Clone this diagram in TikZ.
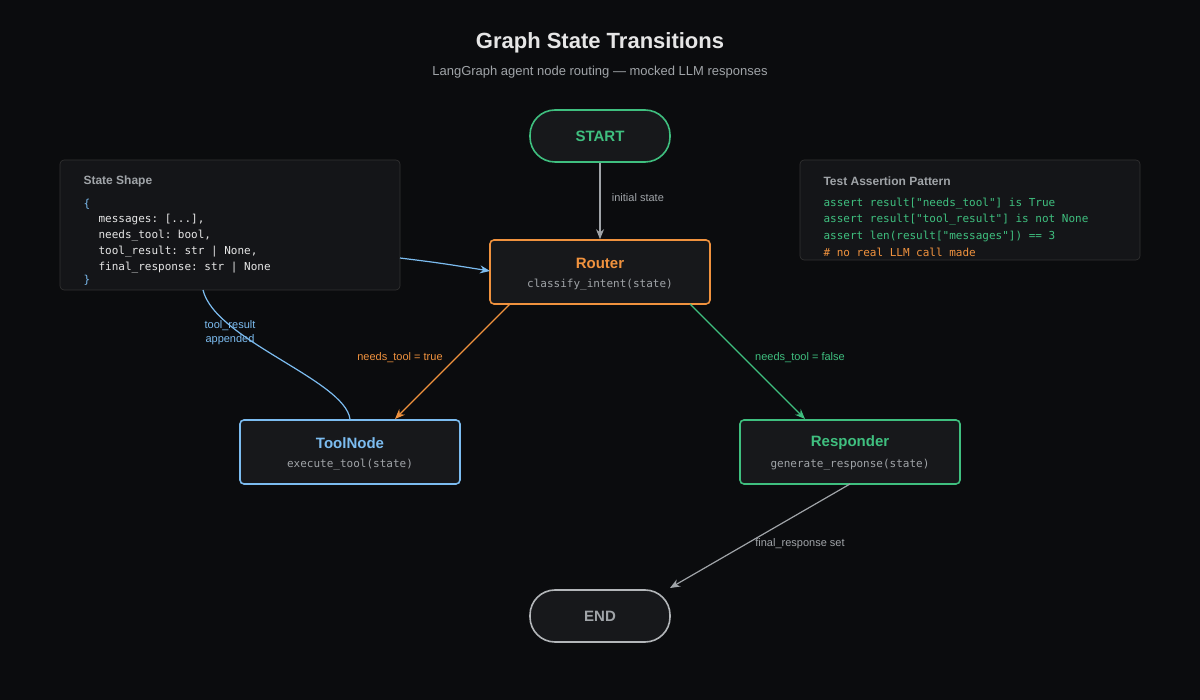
\documentclass[tikz,border=0pt]{standalone}
\usepackage{fontspec}
\setmainfont{Liberation Sans}
\setmonofont{DejaVu Sans Mono}
\usetikzlibrary{arrows.meta}
\definecolor{bg}{HTML}{0B0C0E}
\definecolor{boxf}{HTML}{17181B}
\definecolor{panel}{HTML}{141518}
\definecolor{gr}{HTML}{3FBF7F}
\definecolor{orn}{HTML}{F0923E}
\definecolor{blu}{HTML}{7CBCF0}
\definecolor{gry}{HTML}{A0A4A8}
\definecolor{txt}{HTML}{E6E6E6}
\begin{document}
\begin{tikzpicture}[x=1pt,y=-1pt,
  term/.style={draw, line width=1.6pt, fill=boxf, rounded corners=25pt, minimum width=140pt, minimum height=52pt, font=\fontsize{15}{18}\selectfont\bfseries},
  state/.style={draw, line width=1.6pt, fill=boxf, rounded corners=4pt, minimum width=220pt, minimum height=64pt},
  panelbox/.style={draw=black!60!gray, line width=0.6pt, fill=panel, rounded corners=4pt},
  lbl/.style={font=\fontsize{11}{13}\selectfont},
  code/.style={font=\ttfamily\fontsize{11}{16}\selectfont, anchor=west},
  arr/.style={line width=1.2pt, -{Stealth[length=10pt,width=8pt]}}]
\fill[bg] (0,0) rectangle (1200,700);
\useasboundingbox (0,0) rectangle (1200,700);
\node[txt, font=\fontsize{22}{26}\selectfont\bfseries] (title) at (600,43) {Graph State Transitions};
\node[gry, font=\fontsize{13}{15}\selectfont] (sub) at (600,72) {LangGraph agent node routing — mocked LLM responses};

\node[term, draw=gr, text=gr] (start) at (600,136) {START};
\node[term, draw=gry!80, text=gry] (end) at (600,616) {END};
\node[state, draw=orn] (router) at (600,272) {};
\node[orn, font=\fontsize{15}{18}\selectfont\bfseries] (rt) at (600,263) {Router};
\node[gry, font=\ttfamily\fontsize{11}{13}\selectfont] (rs) at (600,285) {classify\_intent(state)};
\node[state, draw=blu] (tool) at (350,452) {};
\node[blu, font=\fontsize{15}{18}\selectfont\bfseries] (tt) at (350,443) {ToolNode};
\node[gry, font=\ttfamily\fontsize{11}{13}\selectfont] (ts) at (350,465) {execute\_tool(state)};
\node[state, draw=gr] (resp) at (850,452) {};
\node[gr, font=\fontsize{15}{18}\selectfont\bfseries] (pt) at (850,443) {Responder};
\node[gry, font=\ttfamily\fontsize{11}{13}\selectfont] (ps) at (850,465) {generate\_response(state)};

% panels
\node[panelbox, minimum width=340pt, minimum height=130pt] (shape) at (230,225) {};
\node[gry, font=\fontsize{12}{14}\selectfont\bfseries, anchor=west] (sh) at (80,181) {State Shape};
\node[code, blu] (c0) at (80,204) {\{};
\node[code, txt] (c1) at (95,220) {messages: [...],};
\node[code, txt] (c2) at (95,236) {needs\_tool: bool,};
\node[code, txt] (c3) at (95,252) {tool\_result: str | None,};
\node[code, txt] (c4) at (95,268) {final\_response: str | None};
\node[code, blu] (c5) at (80,280) {\}};

\node[panelbox, minimum width=340pt, minimum height=100pt] (test) at (970,210) {};
\node[gry, font=\fontsize{12}{14}\selectfont\bfseries, anchor=west] (th) at (820,181) {Test Assertion Pattern};
\node[code, gr] (t1) at (820,204) {assert result["needs\_tool"] is True};
\node[code, gr] (t2) at (820,220) {assert result["tool\_result"] is not None};
\node[code, gr] (t3) at (820,236) {assert len(result["messages"]) == 3};
\node[code, orn] (t4) at (820,252) {\# no real LLM call made};

% edges
\draw[arr, gry] (start) -- (router) node[pos=0.45, right=8pt, lbl] {initial state};
\draw[arr, orn] (510,304) -- (395,419);
\node[lbl, orn] (l1) at (400,358) {needs\_tool = true};
\draw[arr, gr] (690,304) -- (805,419);
\node[lbl, gr] (l2) at (800,358) {needs\_tool = false};
\draw[arr, gry] (850,484) -- (670,588);
\node[lbl, gry] (l3) at (800,544) {final\_response set};
\draw[arr, blu] (400,258) .. controls (440,263) .. (490,271);
\draw[blu, line width=1.2pt] (tool.north) .. controls (345,380) and (215,340) .. (203,290);
\node[lbl, blu, align=center, font=\fontsize{11}{14}\selectfont] (l4) at (230,333) {tool\_result\\appended};
\end{tikzpicture}
\end{document}
